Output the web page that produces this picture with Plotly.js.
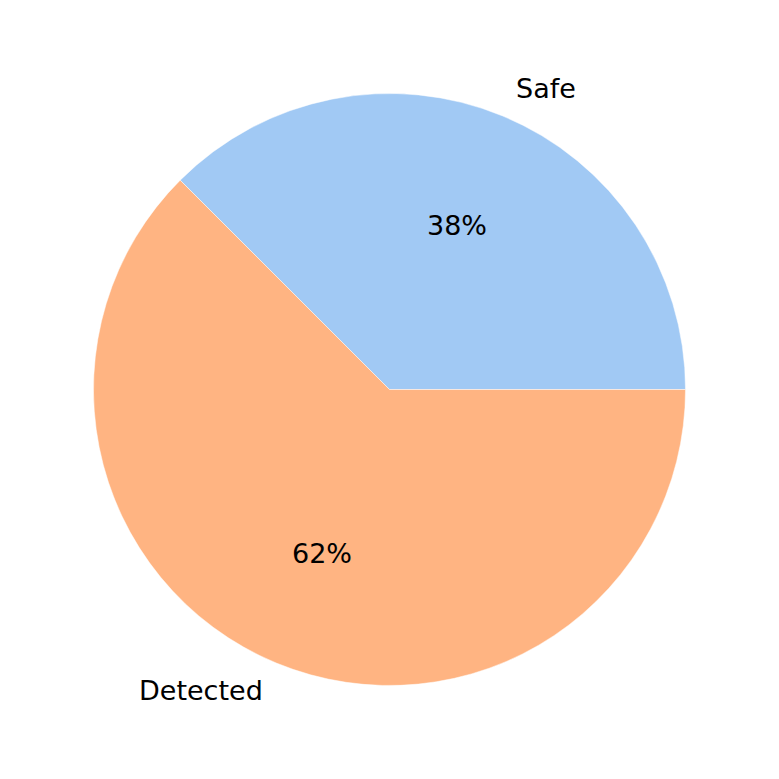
<!DOCTYPE html>
<html>
<head>
<meta charset="utf-8">
<script src="https://cdn.plot.ly/plotly-3.0.1.min.js"></script>
<style>
  html, body { margin: 0; padding: 0; background: #fff; }
  #chart { width: 779px; height: 779px; }
</style>
</head>
<body>
<div id="chart"></div>
<script>
// slices, counterclockwise from 3 o'clock
const labels = ['Safe', 'Detected'];
const values = [3, 5];
const colors = ['#a1c9f4', '#ffb482'];

const cx = 0.5, cy = 0.5, r = 0.38;
const font = { family: 'DejaVu Sans', size: 27, color: '#000' };

const total = values.reduce((a, b) => a + b, 0);
let annotations = [];
let start = 0;
values.forEach((v, i) => {
    let mid = (start + v / 2) / total * 2 * Math.PI;
    start += v;
    let pct = v / total * 100;
    // matplotlib-style rounding (half to even)
    let txt = (Math.abs(pct % 1 - 0.5) < 1e-9 && Math.floor(pct) % 2 === 0) ? Math.floor(pct) : Math.round(pct);
    annotations.push({
        xref: 'paper', yref: 'paper',
        x: cx + 0.6 * r * Math.cos(mid), y: cy + 0.6 * r * Math.sin(mid),
        text: txt + '%', showarrow: false, font: font,
        xanchor: 'center', yanchor: 'middle'
    });
    let lx = cx + 1.1 * r * Math.cos(mid), ly = cy + 1.1 * r * Math.sin(mid);
    annotations.push({
        xref: 'paper', yref: 'paper', x: lx, y: ly,
        text: labels[i], showarrow: false, font: font,
        xanchor: Math.cos(mid) >= 0 ? 'left' : 'right', yanchor: 'middle'
    });
});

// plotly's counterclockwise pie puts the first slice clockwise from `rotation`,
// so shift back by its size to make it start at 3 o'clock
const rot = 90 - 360 * values[0] / total;

Plotly.newPlot('chart', [{
    type: 'pie',
    labels: labels,
    values: values,
    sort: false,
    direction: 'counterclockwise',
    rotation: rot,
    marker: { colors: colors, line: { color: '#fff', width: 0.5 } },
    textinfo: 'none',
    hoverinfo: 'label+percent',
    domain: { x: [cx - r, cx + r], y: [cy - r, cy + r] }
}], {
    width: 779, height: 779,
    margin: { l: 0, r: 0, t: 0, b: 0 },
    showlegend: false,
    paper_bgcolor: '#fff',
    annotations: annotations
}, { displayModeBar: false, staticPlot: true });
</script>
</body>
</html>
